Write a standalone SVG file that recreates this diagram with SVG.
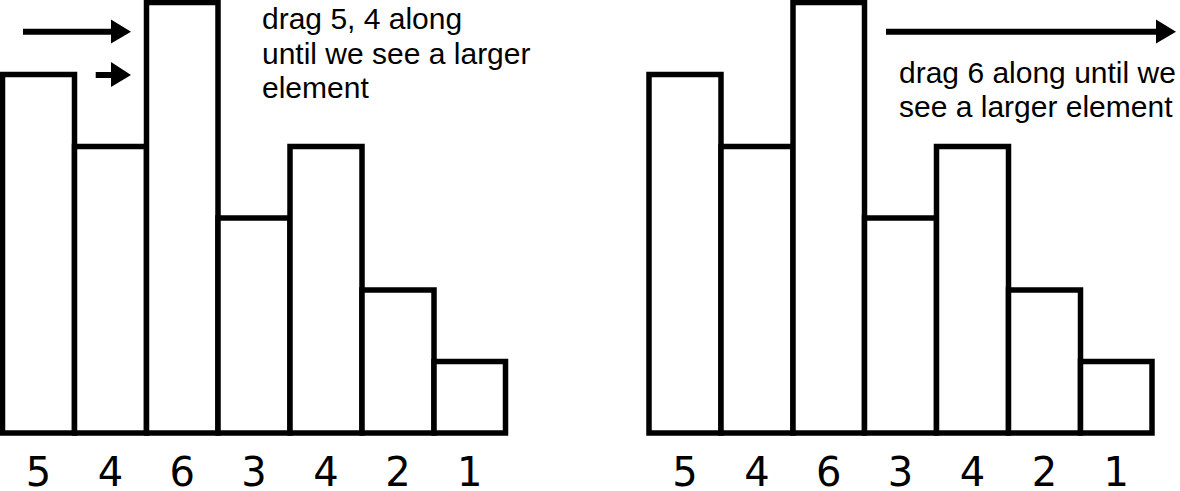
<svg xmlns="http://www.w3.org/2000/svg" width="1180" height="491" viewBox="0 0 1180 491">
  <style>
    .bar { fill: #ffffff; stroke: #000000; stroke-width: 5.5; }
    .num { font-family: "DejaVu Sans", sans-serif; font-size: 40px; fill: #000000; text-anchor: middle; }
    .note { font-family: "Liberation Sans", Arial, sans-serif; font-size: 30px; fill: #000000; }
    .arrow { stroke: #000000; stroke-width: 6; fill: none; }
    .head { fill: #000000; }
  </style>
  <rect width="1180" height="491" fill="#ffffff"/>

  <g id="left-chart">
    <g id="left-bar-1"><rect class="bar" x="2.5" y="74.5" width="72" height="358.5"/><text class="num" x="38.5" y="486">5</text></g>
    <g id="left-bar-2"><rect class="bar" x="74.5" y="146.5" width="72" height="286.5"/><text class="num" x="110.5" y="486">4</text></g>
    <g id="left-bar-3"><rect class="bar" x="146.5" y="2.5" width="71.5" height="430.5"/><text class="num" x="182.3" y="486">6</text></g>
    <g id="left-bar-4"><rect class="bar" x="218" y="218" width="72" height="215"/><text class="num" x="254" y="486">3</text></g>
    <g id="left-bar-5"><rect class="bar" x="290" y="146.5" width="72" height="286.5"/><text class="num" x="326" y="486">4</text></g>
    <g id="left-bar-6"><rect class="bar" x="362" y="290" width="72" height="143"/><text class="num" x="398" y="486">2</text></g>
    <g id="left-bar-7"><rect class="bar" x="434" y="361.5" width="71.5" height="71.5"/><text class="num" x="469.7" y="486">1</text></g>
    <g id="left-note">
      <text class="note" x="262" y="29">drag 5, 4 along</text>
      <text class="note" x="262" y="63.5">until we see a larger</text>
      <text class="note" x="262" y="98">element</text>
    </g>
  </g>

  <g id="right-chart">
    <g id="right-bar-1"><rect class="bar" x="649" y="74.5" width="72" height="358.5"/><text class="num" x="685" y="486">5</text></g>
    <g id="right-bar-2"><rect class="bar" x="721" y="146.5" width="72" height="286.5"/><text class="num" x="757" y="486">4</text></g>
    <g id="right-bar-3"><rect class="bar" x="793" y="2.5" width="71.5" height="430.5"/><text class="num" x="828.8" y="486">6</text></g>
    <g id="right-bar-4"><rect class="bar" x="864.5" y="218" width="72" height="215"/><text class="num" x="900.5" y="486">3</text></g>
    <g id="right-bar-5"><rect class="bar" x="936.5" y="146.5" width="72" height="286.5"/><text class="num" x="972.5" y="486">4</text></g>
    <g id="right-bar-6"><rect class="bar" x="1008.5" y="290" width="72" height="143"/><text class="num" x="1044.5" y="486">2</text></g>
    <g id="right-bar-7"><rect class="bar" x="1080.5" y="361.5" width="71.5" height="71.5"/><text class="num" x="1116.2" y="486">1</text></g>
    <g id="right-note">
      <text class="note" x="899" y="83">drag 6 along until we</text>
      <text class="note" x="899" y="117">see a larger element</text>
    </g>
  </g>

  <g id="connectors">
    <line class="arrow" x1="23" y1="31.7" x2="112" y2="31.7"/>
    <polygon class="head" points="111,19.5 131,31.7 111,43.5"/>
    <line class="arrow" x1="95.7" y1="75" x2="112" y2="75"/>
    <polygon class="head" points="111,62 131,75 111,87"/>
    <line class="arrow" x1="886" y1="31.7" x2="1157" y2="31.7"/>
    <polygon class="head" points="1156,19.5 1176,31.7 1156,43.5"/>
  </g>
</svg>
